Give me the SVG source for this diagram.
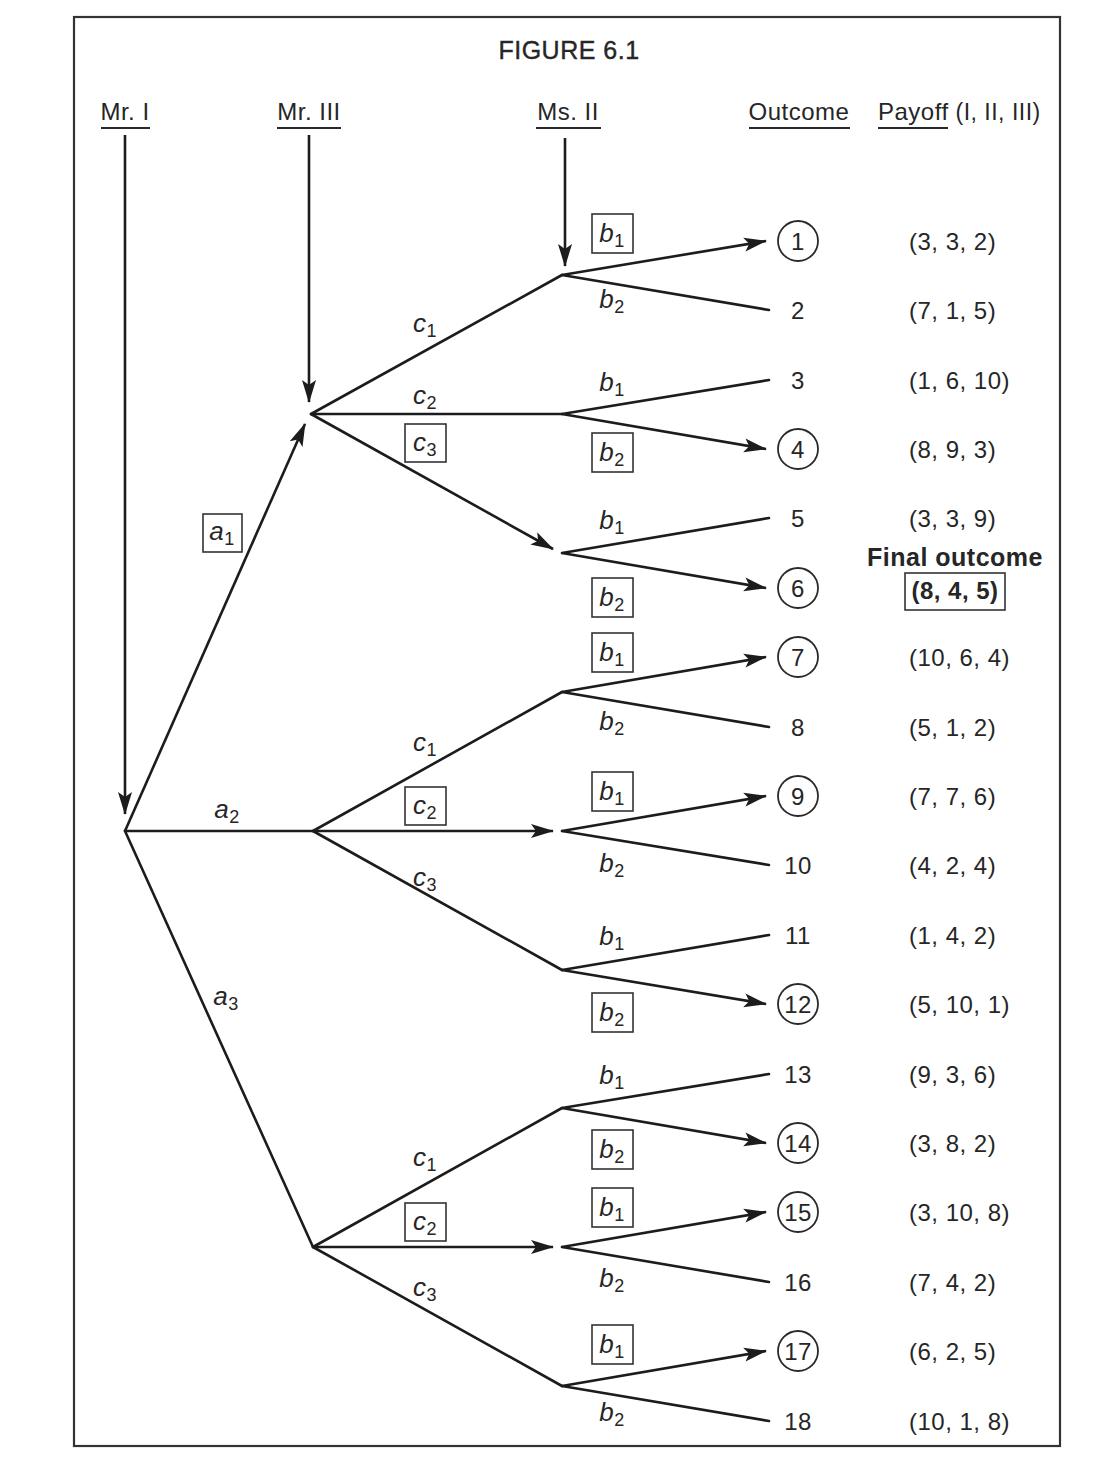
<svg xmlns="http://www.w3.org/2000/svg" width="1114" height="1468" viewBox="0 0 1114 1468">
<defs>
<marker id="ah" markerUnits="userSpaceOnUse" markerWidth="26" markerHeight="18" viewBox="-24 -9 26 18" refX="0" refY="0" orient="auto">
<path d="M1,0 L-22,-7 L-17,0 L-22,7 Z" fill="#1c1c1c"/>
</marker>
<style>
.t{font-family:"Liberation Sans",Arial,sans-serif;font-size:24px;fill:#262626;letter-spacing:0.5px}
.m{text-anchor:middle}
.i{font-style:italic;font-size:26px}
.s{font-size:18px;font-style:normal}
.e{stroke:#1c1c1c;stroke-width:2.6;fill:none;stroke-linecap:round}
.ea{stroke:#1c1c1c;stroke-width:2.6;fill:none;marker-end:url(#ah)}
.u{stroke:#2a2a2a;stroke-width:2}
.bx{fill:none;stroke:#333;stroke-width:1.6}
.c{fill:#fff;stroke:#2a2a2a;stroke-width:1.8}
.b{font-weight:bold}
</style>
</defs>
<rect x="0" y="0" width="1114" height="1468" fill="#fff"/>
<rect x="74" y="17" width="986" height="1429" fill="none" stroke="#333" stroke-width="2.2"/>

<g id="title"><text class="t m" x="569" y="59" style="font-size:25px;stroke:#262626;stroke-width:0.4">FIGURE 6.1</text></g>

<g id="headers">
<g id="h-mr1"><text class="t m" x="125" y="120">Mr. I</text><line class="u" x1="101" y1="128" x2="150" y2="128"/></g>
<g id="h-mr3"><text class="t m" x="309" y="120">Mr. III</text><line class="u" x1="277" y1="128" x2="341" y2="128"/></g>
<g id="h-ms2"><text class="t m" x="568" y="120">Ms. II</text><line class="u" x1="536" y1="128" x2="601" y2="128"/></g>
<g id="h-out"><text class="t m" x="799" y="120">Outcome</text><line class="u" x1="749" y1="128" x2="850" y2="128"/></g>
<g id="h-pay"><text class="t" x="878" y="120">Payoff<tspan style="font-size:23px"> (I, II, III)</tspan></text><line class="u" x1="878" y1="128" x2="948" y2="128"/></g>
</g>

<g id="connectors">
<line class="ea" x1="125" y1="135" x2="125" y2="814"/>
<line class="ea" x1="309" y1="135" x2="309" y2="402"/>
<line class="ea" x1="565" y1="138" x2="565" y2="266"/>
<line class="ea" x1="125" y1="831" x2="305" y2="424"/>
<line class="e" x1="125" y1="831" x2="313" y2="831"/>
<line class="e" x1="125" y1="831" x2="313" y2="1247"/>
<line class="e" x1="311" y1="414" x2="562" y2="275"/>
<line class="e" x1="311" y1="414" x2="562" y2="414"/>
<line class="ea" x1="311" y1="414" x2="553" y2="549"/>
<line class="e" x1="313" y1="831" x2="562" y2="692"/>
<line class="ea" x1="313" y1="831" x2="553" y2="831"/>
<line class="e" x1="313" y1="831" x2="562" y2="970"/>
<line class="e" x1="313" y1="1247" x2="562" y2="1108"/>
<line class="ea" x1="313" y1="1247" x2="553" y2="1247"/>
<line class="e" x1="313" y1="1247" x2="562" y2="1386"/>
<line class="ea" x1="562" y1="275" x2="766" y2="241"/>
<line class="e" x1="562" y1="275" x2="769" y2="310"/>
<line class="e" x1="562" y1="414" x2="769" y2="380"/>
<line class="ea" x1="562" y1="414" x2="766" y2="449"/>
<line class="e" x1="562" y1="553" x2="769" y2="518"/>
<line class="ea" x1="562" y1="553" x2="766" y2="588"/>
<line class="ea" x1="562" y1="692" x2="766" y2="657"/>
<line class="e" x1="562" y1="692" x2="769" y2="727"/>
<line class="ea" x1="562" y1="831" x2="766" y2="796"/>
<line class="e" x1="562" y1="831" x2="769" y2="865"/>
<line class="e" x1="562" y1="970" x2="769" y2="935"/>
<line class="ea" x1="562" y1="970" x2="766" y2="1004"/>
<line class="e" x1="562" y1="1108" x2="769" y2="1074"/>
<line class="ea" x1="562" y1="1108" x2="766" y2="1143"/>
<line class="ea" x1="562" y1="1247" x2="766" y2="1212"/>
<line class="e" x1="562" y1="1247" x2="769" y2="1282"/>
<line class="ea" x1="562" y1="1386" x2="766" y2="1351"/>
<line class="e" x1="562" y1="1386" x2="769" y2="1421"/>
</g>

<g id="edge-labels">
<g id="a1"><rect class="bx" x="203" y="514" width="39" height="38"/><text class="t m" x="222" y="540"><tspan class="i">a</tspan><tspan class="s" dy="5">1</tspan></text></g>
<g id="a2"><text class="t m" x="227" y="818"><tspan class="i">a</tspan><tspan class="s" dy="5">2</tspan></text></g>
<g id="a3"><text class="t m" x="226" y="1005"><tspan class="i">a</tspan><tspan class="s" dy="5">3</tspan></text></g>

<g id="c1-top"><text class="t m" x="425" y="332"><tspan class="i">c</tspan><tspan class="s" dy="5">1</tspan></text></g>
<g id="c2-top"><text class="t m" x="425" y="404"><tspan class="i">c</tspan><tspan class="s" dy="5">2</tspan></text></g>
<g id="c3-top"><rect class="bx" x="405" y="424" width="41" height="38"/><text class="t m" x="425" y="451"><tspan class="i">c</tspan><tspan class="s" dy="5">3</tspan></text></g>

<g id="c1-mid"><text class="t m" x="425" y="751"><tspan class="i">c</tspan><tspan class="s" dy="5">1</tspan></text></g>
<g id="c2-mid"><rect class="bx" x="405" y="787" width="41" height="38"/><text class="t m" x="425" y="814"><tspan class="i">c</tspan><tspan class="s" dy="5">2</tspan></text></g>
<g id="c3-mid"><text class="t m" x="425" y="886"><tspan class="i">c</tspan><tspan class="s" dy="5">3</tspan></text></g>

<g id="c1-bot"><text class="t m" x="425" y="1166"><tspan class="i">c</tspan><tspan class="s" dy="5">1</tspan></text></g>
<g id="c2-bot"><rect class="bx" x="405" y="1203" width="41" height="38"/><text class="t m" x="425" y="1230"><tspan class="i">c</tspan><tspan class="s" dy="5">2</tspan></text></g>
<g id="c3-bot"><text class="t m" x="425" y="1296"><tspan class="i">c</tspan><tspan class="s" dy="5">3</tspan></text></g>

<g id="b-n0"><rect class="bx" x="592" y="214" width="41" height="39"/><text class="t m" x="612" y="242"><tspan class="i">b</tspan><tspan class="s" dy="5">1</tspan></text><text class="t m" x="612" y="308"><tspan class="i">b</tspan><tspan class="s" dy="5">2</tspan></text></g>
<g id="b-n1"><text class="t m" x="612" y="391"><tspan class="i">b</tspan><tspan class="s" dy="5">1</tspan></text><rect class="bx" x="592" y="433" width="41" height="39"/><text class="t m" x="612" y="461"><tspan class="i">b</tspan><tspan class="s" dy="5">2</tspan></text></g>
<g id="b-n2"><text class="t m" x="612" y="529"><tspan class="i">b</tspan><tspan class="s" dy="5">1</tspan></text><rect class="bx" x="592" y="578" width="41" height="39"/><text class="t m" x="612" y="606"><tspan class="i">b</tspan><tspan class="s" dy="5">2</tspan></text></g>
<g id="b-n3"><rect class="bx" x="592" y="633" width="41" height="39"/><text class="t m" x="612" y="661"><tspan class="i">b</tspan><tspan class="s" dy="5">1</tspan></text><text class="t m" x="612" y="730"><tspan class="i">b</tspan><tspan class="s" dy="5">2</tspan></text></g>
<g id="b-n4"><rect class="bx" x="592" y="772" width="41" height="39"/><text class="t m" x="612" y="800"><tspan class="i">b</tspan><tspan class="s" dy="5">1</tspan></text><text class="t m" x="612" y="872"><tspan class="i">b</tspan><tspan class="s" dy="5">2</tspan></text></g>
<g id="b-n5"><text class="t m" x="612" y="945"><tspan class="i">b</tspan><tspan class="s" dy="5">1</tspan></text><rect class="bx" x="592" y="993" width="41" height="39"/><text class="t m" x="612" y="1021"><tspan class="i">b</tspan><tspan class="s" dy="5">2</tspan></text></g>
<g id="b-n6"><text class="t m" x="612" y="1084"><tspan class="i">b</tspan><tspan class="s" dy="5">1</tspan></text><rect class="bx" x="592" y="1130" width="41" height="39"/><text class="t m" x="612" y="1158"><tspan class="i">b</tspan><tspan class="s" dy="5">2</tspan></text></g>
<g id="b-n7"><rect class="bx" x="592" y="1188" width="41" height="39"/><text class="t m" x="612" y="1216"><tspan class="i">b</tspan><tspan class="s" dy="5">1</tspan></text><text class="t m" x="612" y="1287"><tspan class="i">b</tspan><tspan class="s" dy="5">2</tspan></text></g>
<g id="b-n8"><rect class="bx" x="592" y="1325" width="41" height="39"/><text class="t m" x="612" y="1353"><tspan class="i">b</tspan><tspan class="s" dy="5">1</tspan></text><text class="t m" x="612" y="1421"><tspan class="i">b</tspan><tspan class="s" dy="5">2</tspan></text></g>
</g>

<g id="outcomes">
<g id="o1"><circle class="c" cx="798" cy="241" r="20"/><text class="t m" x="798" y="249.5">1</text></g>
<g id="o2"><text class="t m" x="798" y="318.5">2</text></g>
<g id="o3"><text class="t m" x="798" y="388.5">3</text></g>
<g id="o4"><circle class="c" cx="798" cy="449" r="20"/><text class="t m" x="798" y="457.5">4</text></g>
<g id="o5"><text class="t m" x="798" y="526.5">5</text></g>
<g id="o6"><circle class="c" cx="798" cy="588" r="20"/><text class="t m" x="798" y="596.5">6</text></g>
<g id="o7"><circle class="c" cx="798" cy="657" r="20"/><text class="t m" x="798" y="665.5">7</text></g>
<g id="o8"><text class="t m" x="798" y="735.5">8</text></g>
<g id="o9"><circle class="c" cx="798" cy="796" r="20"/><text class="t m" x="798" y="804.5">9</text></g>
<g id="o10"><text class="t m" x="798" y="873.5">10</text></g>
<g id="o11"><text class="t m" x="798" y="943.5">11</text></g>
<g id="o12"><circle class="c" cx="798" cy="1004" r="20"/><text class="t m" x="798" y="1012.5">12</text></g>
<g id="o13"><text class="t m" x="798" y="1082.5">13</text></g>
<g id="o14"><circle class="c" cx="798" cy="1143" r="20"/><text class="t m" x="798" y="1151.5">14</text></g>
<g id="o15"><circle class="c" cx="798" cy="1212" r="20"/><text class="t m" x="798" y="1220.5">15</text></g>
<g id="o16"><text class="t m" x="798" y="1290.5">16</text></g>
<g id="o17"><circle class="c" cx="798" cy="1351" r="20"/><text class="t m" x="798" y="1359.5">17</text></g>
<g id="o18"><text class="t m" x="798" y="1429.5">18</text></g>
</g>

<g id="payoffs">
<text class="t" x="909" y="249.5">(3, 3, 2)</text>
<text class="t" x="909" y="318.5">(7, 1, 5)</text>
<text class="t" x="909" y="388.5">(1, 6, 10)</text>
<text class="t" x="909" y="457.5">(8, 9, 3)</text>
<text class="t" x="909" y="526.5">(3, 3, 9)</text>
<g id="final"><text class="t m b" x="955" y="566" style="font-size:25px">Final outcome</text><rect class="bx" x="905" y="573" width="100" height="37"/><text class="t m b" x="955" y="599">(8, 4, 5)</text></g>
<text class="t" x="909" y="665.5">(10, 6, 4)</text>
<text class="t" x="909" y="735.5">(5, 1, 2)</text>
<text class="t" x="909" y="804.5">(7, 7, 6)</text>
<text class="t" x="909" y="873.5">(4, 2, 4)</text>
<text class="t" x="909" y="943.5">(1, 4, 2)</text>
<text class="t" x="909" y="1012.5">(5, 10, 1)</text>
<text class="t" x="909" y="1082.5">(9, 3, 6)</text>
<text class="t" x="909" y="1151.5">(3, 8, 2)</text>
<text class="t" x="909" y="1220.5">(3, 10, 8)</text>
<text class="t" x="909" y="1290.5">(7, 4, 2)</text>
<text class="t" x="909" y="1359.5">(6, 2, 5)</text>
<text class="t" x="909" y="1429.5">(10, 1, 8)</text>
</g>
</svg>
